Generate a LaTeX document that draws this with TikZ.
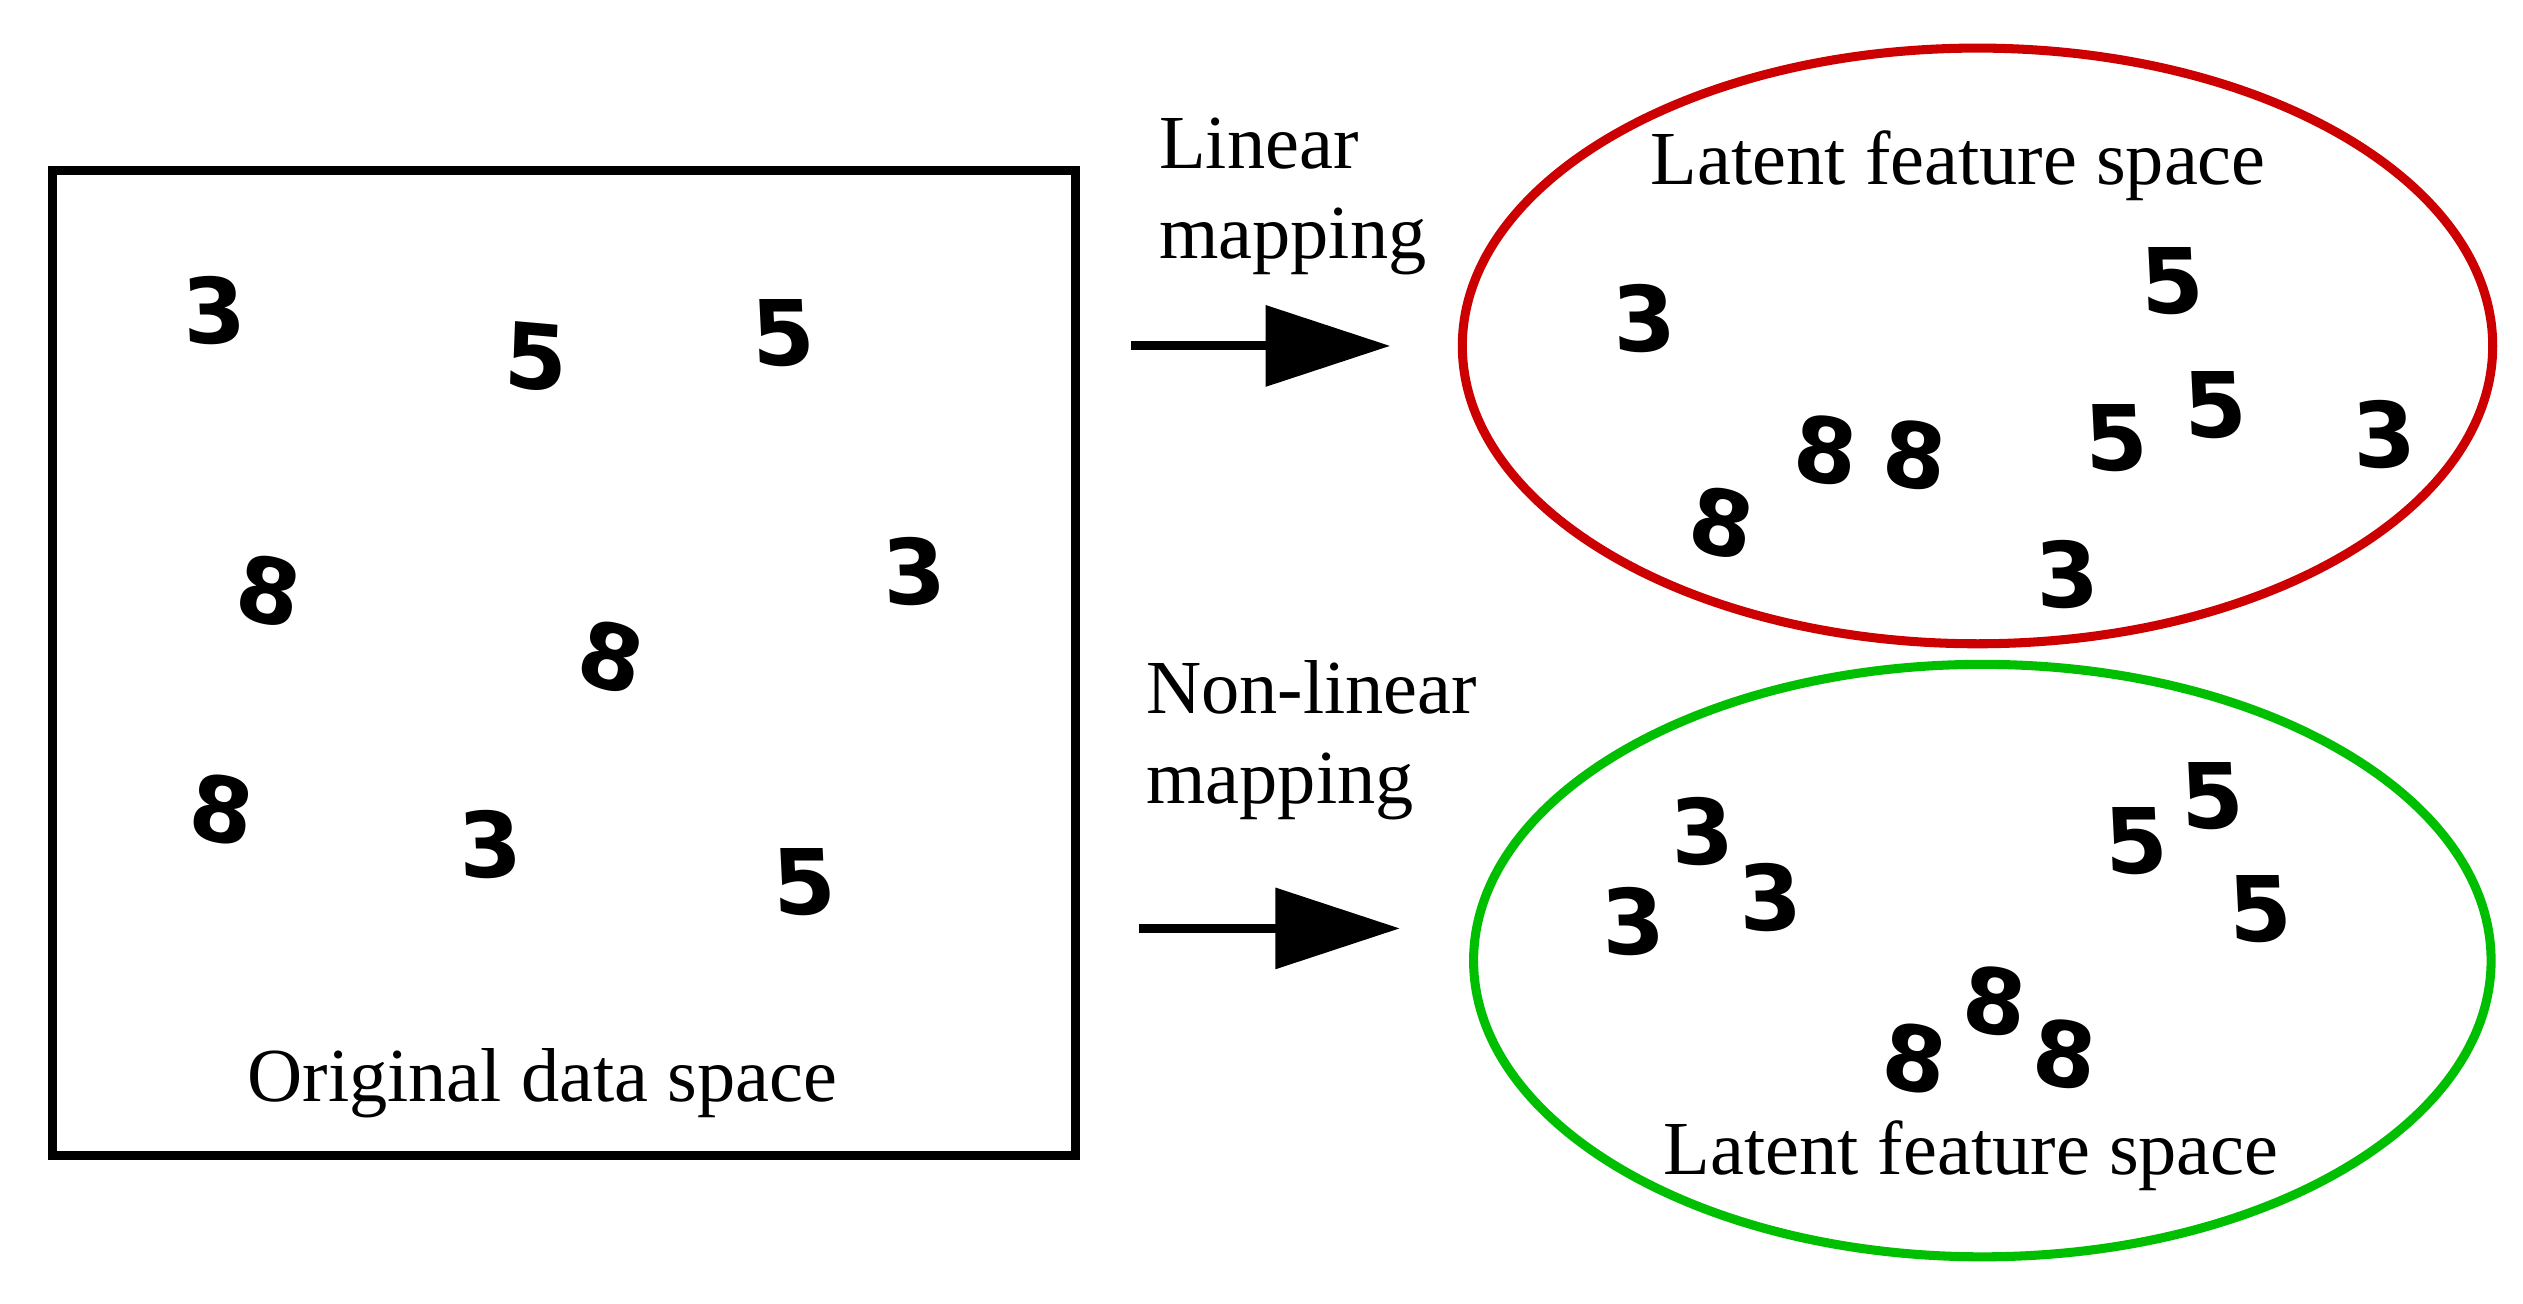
\documentclass[tikz,border=0pt]{standalone}
\usepackage{fontspec}
\setmainfont{Liberation Serif}
\newfontfamily\digfont{DejaVu Sans}
\usetikzlibrary{arrows.meta,shapes.geometric}
\begin{document}
\begin{tikzpicture}[x=0.01cm,y=-0.01cm,
  lbl/.style={font=\fontsize{13.5pt}{16pt}\selectfont},
  dg/.style={font=\digfont\bfseries\fontsize{16pt}{16pt}\selectfont, inner sep=0pt, xslant=-0.05},
  arr/.style={line width=1.6pt,-{Triangle[length=22pt,width=14pt]}}]
\useasboundingbox (0,0) rectangle (1568,810);
\node[draw, line width=1.6pt, minimum width=6.35cm, minimum height=6.12cm, anchor=north west] (box) at (30,103) {};
\node[lbl] (olab) at (337,673) {Original data space};
\foreach \d/\x/\y/\r [count=\i] in {3/133/193/0,5/333/222/-5,5/487/207/0,8/167/367/-12,3/568/355/0,8/380/408/-15,8/138/503/-10,3/305/525/0,5/500/548/0}
  \node[dg,rotate=\r] (o\i) at (\x,\y) {\d};
\node[draw=red!80!black, line width=1.6pt, ellipse, inner sep=0pt, minimum width=6.4cm, minimum height=3.7cm] (e1) at (1229,215) {};
\node[lbl] (l1) at (1217,103) {Latent feature space};
\foreach \d/\x/\y/\r [count=\i] in {3/1022/198/0,5/1350/175/0,8/1070/325/-12,8/1135/280/-8,8/1190/283/-8,5/1315/272/0,5/1377/252/0,3/1482/270/0,3/1285/357/0}
  \node[dg,rotate=\r] (a\i) at (\x,\y) {\d};
\node[draw=green!75!black, line width=1.6pt, ellipse, inner sep=0pt, minimum width=6.32cm, minimum height=3.68cm] (e2) at (1232,597) {};
\node[lbl] (l2) at (1225,718) {Latent feature space};
\foreach \d/\x/\y/\r [count=\i] in {3/1015/573/0,3/1058/517/0,3/1100/558/0,5/1328/523/0,5/1375/495/0,5/1405/565/0,8/1190/658/-10,8/1240/622/-8,8/1283/655/-8}
  \node[dg,rotate=\r] (b\i) at (\x,\y) {\d};
\coordinate (s1) at (703,215); \coordinate (t1) at (864,215);
\coordinate (s2) at (708,577); \coordinate (t2) at (870,577);
\draw[arr] (s1) -- (t1);
\draw[arr] (s2) -- (t2);
\node[lbl, align=left, anchor=west] (m1) at (708,122) {Linear\\mapping};
\node[lbl, align=left, anchor=west] (m2) at (700,460) {Non-linear\\mapping};
\end{tikzpicture}
\end{document}
